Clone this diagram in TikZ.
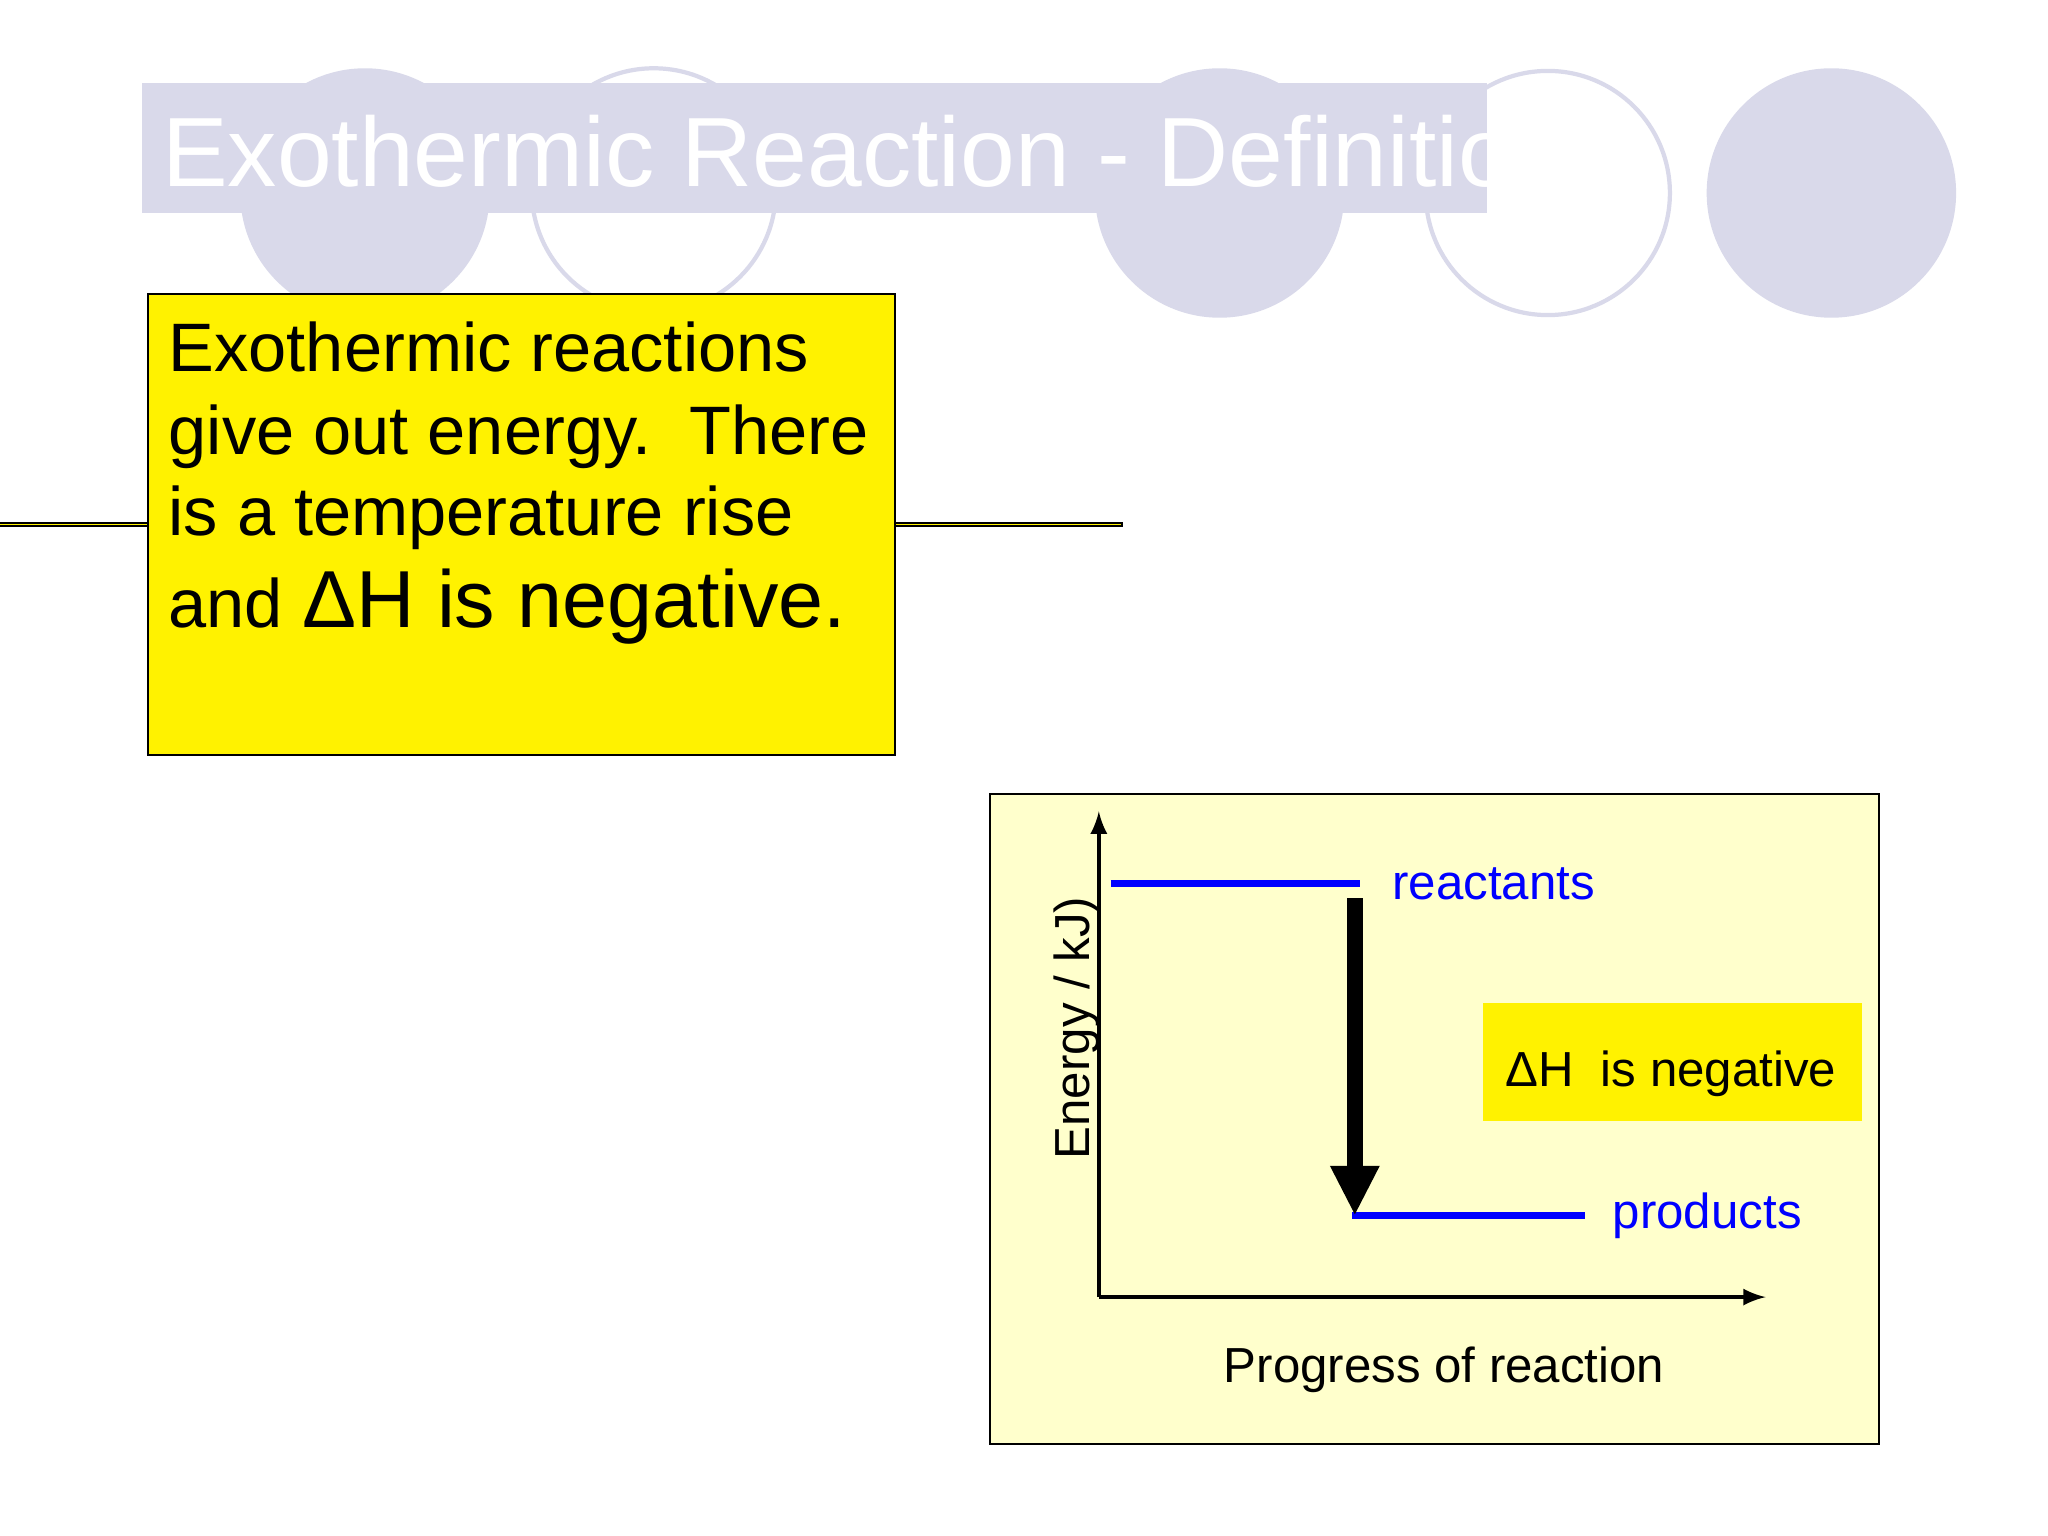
\documentclass[tikz,border=0pt]{standalone}
\usepackage{fontspec}
\setmainfont{Liberation Sans}
\definecolor{lav}{HTML}{D9D9EA}
\definecolor{paley}{HTML}{FFFFCC}
\begin{document}
\begin{tikzpicture}[x=0.013128cm,y=-0.013128cm,
  fc/.style={fill=lav,draw=none},
  oc/.style={draw=lav,line width=1.2pt,fill=white},
  lvl/.style={draw=blue,line width=2pt},
  lbl/.style={text=blue,font=\fontsize{14}{16}\selectfont,anchor=west,inner sep=0}]
\useasboundingbox (0,0) rectangle (1560,1170);
\fill[white] (0,0) rectangle (1560,1170);
\fill[fc] (278,147) circle (95);
\draw[oc] (498,145) circle (93);
\fill[fc] (929,147) circle (95);
\draw[oc] (1179,147) circle (93);
\fill[fc] (1395,147) circle (95);
\fill[lav] (108,63) rectangle (1133,162);
\node[anchor=west,text=white,inner sep=0,font=\fontsize{28}{30}\selectfont] (title) at (123,115) {Exothermic Reaction - Definition};
\node[draw=black,fill=yellow,line width=0.6pt,minimum width=569\pgflinewidth,inner sep=0] (defbox) at (397.5,399.5) {};
\draw[fill=yellow,line width=0.6pt] (113,224) rectangle (682,575);
\node[anchor=base west,inner sep=0,font=\fontsize{19.5}{21}\selectfont] (l1) at (128,283) {Exothermic reactions};
\node[anchor=base west,inner sep=0,font=\fontsize{19.5}{21}\selectfont] (l2) at (128,346) {give out energy.\ \ There};
\node[anchor=base west,inner sep=0,font=\fontsize{19.5}{21}\selectfont] (l3) at (128,408) {is a temperature rise};
\node[anchor=base west,inner sep=0,font=\fontsize{19.5}{21}\selectfont] (l4) at (128,478) {and {\fontsize{23}{25}\selectfont ΔH is negative.}};
\draw[fill=paley,line width=0.6pt] (754,605) rectangle (1431,1100);
\coordinate (o) at (837,988);
\coordinate (yt) at (837,618);
\coordinate (xt) at (1345,988);
\draw[line width=1.2pt,-latex] (o) -- (yt);
\draw[line width=1.2pt,-latex] (o) -- (xt);
\coordinate (r1) at (846,673); \coordinate (r2) at (1036,673);
\coordinate (p1) at (1030,926); \coordinate (p2) at (1207,926);
\draw[lvl] (r1) -- (r2);
\draw[lvl] (p1) -- (p2);
\node[lbl] (react) at (1060,673) {reactants};
\node[lbl] (prod) at (1228,926) {products};
\fill (1026,684) rectangle (1038,890);
\fill (1013,888) -- (1051,888) -- (1032,925) -- cycle;
\fill[yellow] (1130,764) rectangle (1418,854);
\node[anchor=west,inner sep=0,font=\fontsize{14}{16}\selectfont] (dh) at (1146,818) {ΔH\ \ is negative};
\node[rotate=90,inner sep=0,font=\fontsize{14}{16}\selectfont] (ey) at (820,783) {Energy / kJ)};
\node[inner sep=0,font=\fontsize{14}{16}\selectfont] (px) at (1100,1043) {Progress of reaction};
\end{tikzpicture}
\end{document}
